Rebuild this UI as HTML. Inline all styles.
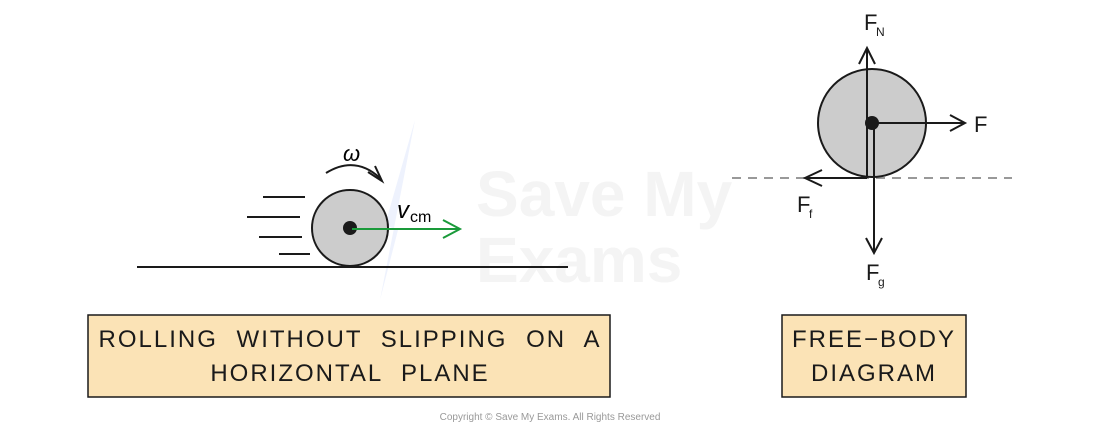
<!DOCTYPE html>
<html><head><style>body{margin:0;background:#fff}svg{display:block}text{font-family:"Liberation Sans",sans-serif}</style></head><body>
<svg width="1100" height="430" viewBox="0 0 1100 430" xmlns="http://www.w3.org/2000/svg">
<g fill="#f4f4f4" font-weight="bold" font-size="64">
<text x="476" y="216">Save My</text><text x="476" y="282">Exams</text></g>
<polygon points="415,120 380,300 398,230 385,225" fill="#eef2fd"/>
<g stroke="#1a1a1a" stroke-width="2" fill="none">
<line x1="137" y1="267" x2="568" y2="267"/>
<line x1="263" y1="197" x2="305" y2="197"/>
<line x1="247" y1="217" x2="300" y2="217"/>
<line x1="259" y1="237" x2="302" y2="237"/>
<line x1="279" y1="254" x2="310" y2="254"/>
<path d="M326,173 Q355,155 380,178"/>
<path d="M368,172 L382,181 L375,166"/>
</g>
<circle cx="350" cy="228" r="38" fill="#cccccc" stroke="#1a1a1a" stroke-width="2"/>
<circle cx="350" cy="228" r="7" fill="#1a1a1a"/>
<g stroke="#1a9a3a" stroke-width="2" fill="none"><line x1="352" y1="229" x2="460" y2="229"/><path d="M443,220 L460,229 L443,238"/></g>
<text x="343" y="161" font-size="22" font-style="italic" font-family="Liberation Serif">ω</text>
<text x="397" y="218" font-size="24" font-style="italic" font-family="Liberation Serif">v</text>
<text x="410" y="222" font-size="16">cm</text>
<line x1="732" y1="178" x2="1012" y2="178" stroke="#999" stroke-width="2" stroke-dasharray="9,7"/>
<circle cx="872" cy="123" r="54" fill="#cccccc" stroke="#1a1a1a" stroke-width="2"/>
<g stroke="#1a1a1a" stroke-width="2" fill="none">
<line x1="867" y1="178" x2="867" y2="48"/><path d="M859,64 L867,48 L875,64"/>
<line x1="872" y1="123" x2="965" y2="123"/><path d="M950,115 L965,123 L950,131"/>
<line x1="867" y1="178" x2="805" y2="178"/><path d="M822,170 L805,178 L822,186"/>
<line x1="874" y1="125" x2="874" y2="253"/><path d="M866,238 L874,253 L882,238"/>
</g>
<circle cx="872" cy="123" r="7" fill="#1a1a1a"/>
<g font-size="22" fill="#1a1a1a">
<text x="864" y="30">F</text><text x="876" y="36" font-size="12">N</text>
<text x="974" y="132">F</text>
<text x="797" y="212">F</text><text x="809" y="218" font-size="12">f</text>
<text x="866" y="280">F</text><text x="878" y="286" font-size="12">g</text>
</g>
<rect x="88" y="315" width="522" height="82" fill="#fbe3b6" stroke="#1a1a1a" stroke-width="1.5"/>
<rect x="782" y="315" width="184" height="82" fill="#fbe3b6" stroke="#1a1a1a" stroke-width="1.5"/>
<g font-size="24" fill="#1a1a1a" text-anchor="middle" letter-spacing="2">
<text x="350" y="347" word-spacing="10">ROLLING WITHOUT SLIPPING ON A</text>
<text x="350" y="381" word-spacing="10">HORIZONTAL PLANE</text>
<text x="874" y="347">FREE−BODY</text>
<text x="874" y="381">DIAGRAM</text>
</g>
<text x="550" y="420" font-size="10" fill="#999" text-anchor="middle">Copyright © Save My Exams. All Rights Reserved</text>
</svg>
</body></html>
